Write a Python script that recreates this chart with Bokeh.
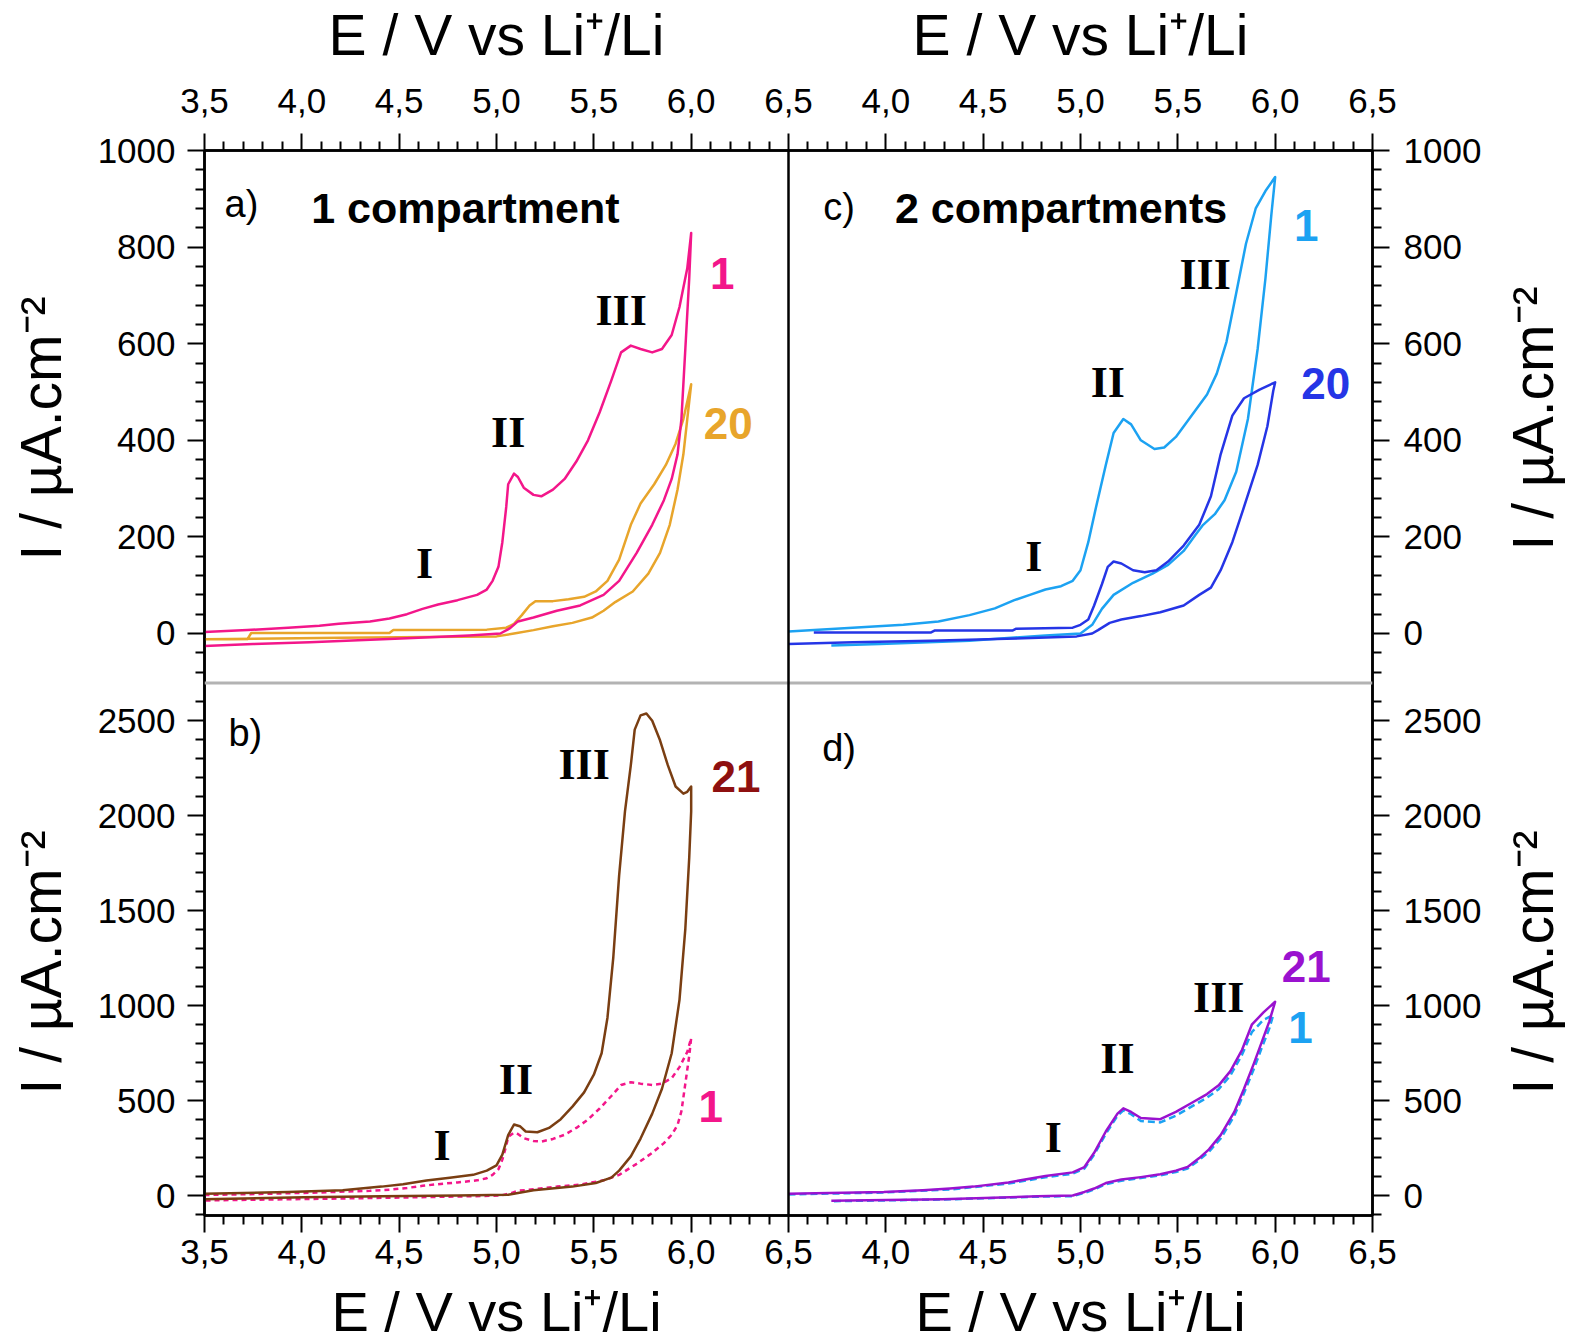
import math
from bokeh.plotting import figure
from bokeh.layouts import column, row
from bokeh.models import (Range1d, LinearAxis, FixedTicker, CustomJSTickFormatter,
                          Label, Span)
from bokeh.embed import file_html
from bokeh.resources import INLINE

# ---------------- data: cyclic voltammograms (E / V, I / uA cm^-2) ----------------
# a) 1 compartment, cycle 1
a1_fwd_E = [3.50, 3.72, 3.93, 4.09, 4.19, 4.35, 4.45, 4.54, 4.62, 4.70, 4.80, 4.90, 4.95, 4.98,
            5.01, 5.03, 5.05, 5.06, 5.09, 5.11, 5.14, 5.19, 5.23, 5.29, 5.35, 5.41, 5.47, 5.53,
            5.59, 5.64, 5.69, 5.74, 5.80, 5.85, 5.90, 5.94, 5.98, 6.00]
a1_fwd_I = [3, 7, 12, 16, 20, 25, 31, 40, 51, 60, 69, 80, 91, 109,
            138, 189, 262, 309, 331, 324, 302, 287, 284, 298, 320, 356, 400, 458,
            524, 582, 596, 589, 582, 589, 618, 676, 756, 829]
a1_rev_E = [6.00, 5.99, 5.97, 5.95, 5.93, 5.90, 5.86, 5.80, 5.72, 5.63, 5.55, 5.43, 5.31, 5.19,
            5.11, 5.07, 5.02, 4.86, 4.54, 4.04, 3.75, 3.50]
a1_rev_I = [829, 735, 589, 444, 371, 320, 276, 225, 167, 109, 80, 58, 47, 33,
            25, 11, 0, -4, -10, -18, -22, -26]

# a) 1 compartment, cycle 20
a20_fwd_E = [3.50, 3.72, 3.74, 4.45, 4.47, 4.95, 5.05, 5.09, 5.13, 5.17, 5.20, 5.29, 5.37, 5.45,
             5.51, 5.57, 5.63, 5.69, 5.74, 5.81, 5.87, 5.92, 5.96, 6.00]
a20_fwd_I = [-12, -12, 1, 1, 7, 8, 12, 20, 38, 58, 67, 67, 71, 76,
             87, 109, 153, 225, 269, 309, 349, 393, 444, 516]
a20_rev_E = [6.00, 5.98, 5.96, 5.93, 5.89, 5.84, 5.78, 5.70, 5.61, 5.55, 5.49, 5.39, 5.29, 5.19,
             5.09, 5.00, 4.80, 4.20, 3.50]
a20_rev_I = [516, 444, 371, 298, 225, 167, 124, 87, 65, 47, 33, 22, 15, 7,
             0, -6, -7, -9, -12]

# b) 1 compartment, cycle 21
b21_fwd_E = [3.50, 3.93, 4.21, 4.41, 4.52, 4.64, 4.76, 4.88, 4.95, 5.00, 5.03, 5.06, 5.09, 5.12,
             5.15, 5.21, 5.27, 5.33, 5.39, 5.45, 5.50, 5.54, 5.57, 5.60, 5.63, 5.66, 5.69, 5.71,
             5.74, 5.77, 5.80, 5.84, 5.88, 5.92, 5.96, 5.98, 6.00]
b21_fwd_I = [9, 19, 28, 47, 60, 79, 94, 109, 131, 159, 215, 318, 374, 365,
             337, 333, 356, 402, 468, 543, 636, 749, 936, 1254, 1685, 2022, 2265, 2452,
             2527, 2537, 2499, 2396, 2265, 2153, 2115, 2125, 2153]
b21_rev_E = [6.00, 6.00, 5.99, 5.97, 5.94, 5.90, 5.85, 5.80, 5.74, 5.69, 5.63, 5.59, 5.51, 5.39,
             5.19, 5.06, 4.80, 4.41, 4.01, 3.50]
b21_rev_I = [2153, 2022, 1778, 1404, 1030, 749, 562, 431, 300, 206, 131, 94, 66, 47,
             28, 4, 0, -4, -9, -19]

# c) 2 compartments, cycle 1
c1_fwd_E = [3.50, 3.83, 4.09, 4.27, 4.43, 4.56, 4.66, 4.74, 4.82, 4.90, 4.96, 5.00, 5.04, 5.08,
            5.13, 5.17, 5.22, 5.26, 5.31, 5.38, 5.43, 5.49, 5.57, 5.65, 5.70, 5.75, 5.80, 5.85,
            5.90, 5.95, 6.00]
c1_fwd_I = [4, 12, 18, 25, 38, 52, 69, 80, 91, 98, 109, 131, 189, 262,
            349, 415, 444, 433, 400, 382, 385, 407, 451, 495, 538, 604, 705, 807,
            880, 916, 945]
c1_rev_E = [6.00, 5.98, 5.95, 5.91, 5.86, 5.80, 5.74, 5.69, 5.63, 5.59, 5.53, 5.45, 5.37, 5.27,
            5.17, 5.11, 5.06, 5.00, 4.82, 4.43, 3.97, 3.72]
c1_rev_I = [945, 865, 735, 589, 444, 335, 276, 247, 225, 204, 171, 142, 124, 105,
            80, 51, 18, 0, -4, -15, -22, -25]

# c) 2 compartments, cycle 20
c20_fwd_E = [3.63, 4.23, 4.25, 4.65, 4.67, 4.96, 5.00, 5.04, 5.07, 5.11, 5.14, 5.17, 5.21, 5.27,
             5.33, 5.39, 5.45, 5.53, 5.61, 5.67, 5.72, 5.78, 5.84, 5.92, 6.00]
c20_fwd_I = [2, 2, 6, 6, 10, 12, 18, 29, 58, 102, 138, 149, 145, 131,
             127, 131, 149, 182, 225, 284, 371, 451, 487, 505, 520]
c20_rev_E = [6.00, 5.99, 5.96, 5.91, 5.84, 5.78, 5.72, 5.67, 5.61, 5.53, 5.41, 5.31, 5.21, 5.15,
             5.09, 5.06, 4.98, 4.62, 4.23, 3.83, 3.50]
c20_rev_I = [520, 502, 429, 349, 262, 189, 131, 95, 80, 58, 44, 36, 29, 22,
             7, 0, -6, -11, -15, -18, -22]

# d) 2 compartments, cycle 1 (dashed)
d1_fwd_E = [3.50, 3.99, 4.33, 4.63, 4.82, 4.96, 5.02, 5.07, 5.13, 5.19, 5.22, 5.26, 5.31, 5.41,
            5.49, 5.57, 5.65, 5.71, 5.77, 5.83, 5.88, 5.94, 5.99]
d1_fwd_I = [6, 16, 32, 63, 96, 115, 142, 215, 325, 420, 448, 428, 392, 385,
            420, 468, 515, 560, 632, 742, 860, 925, 950]
d1_rev_E = [5.99, 5.97, 5.93, 5.89, 5.84, 5.79, 5.72, 5.66, 5.61, 5.55, 5.49, 5.41, 5.31, 5.21,
            5.13, 5.07, 5.02, 4.96, 4.78, 4.29, 3.72]
d1_rev_I = [950, 880, 775, 665, 540, 420, 300, 230, 187, 142, 124, 106, 92, 78,
            60, 32, 14, -3, -6, -21, -30]

# d) 2 compartments, cycle 21
d21_fwd_E = [3.50, 3.99, 4.19, 4.33, 4.45, 4.63, 4.82, 4.96, 5.02, 5.07, 5.13, 5.19, 5.22, 5.26,
             5.31, 5.41, 5.49, 5.57, 5.65, 5.71, 5.77, 5.83, 5.88, 5.94, 6.00]
d21_fwd_I = [9, 19, 28, 37, 47, 69, 103, 122, 150, 225, 337, 431, 459, 440,
             408, 402, 440, 487, 534, 580, 655, 767, 899, 964, 1020]
d21_rev_E = [6.00, 5.97, 5.93, 5.89, 5.84, 5.79, 5.72, 5.66, 5.61, 5.55, 5.49, 5.41, 5.31, 5.21,
             5.13, 5.07, 5.02, 4.96, 4.78, 4.29, 3.72]
d21_rev_I = [1020, 917, 805, 693, 562, 440, 318, 243, 197, 150, 131, 112, 97, 84,
             66, 37, 19, 0, -4, -19, -28]

# axis ticks
x_major = [3.5, 4.0, 4.5, 5.0, 5.5, 6.0, 6.5]
top_major = [0, 200, 400, 600, 800, 1000]
bot_major = [0, 500, 1000, 1500, 2000, 2500]

# ---------------- colours ----------------
PINK = "#F3168A"
ORANGE = "#E8A52B"
CYAN = "#1CA2F2"
BLUE = "#2535E6"
BROWN = "#7A3E12"
DARKRED = "#8E1010"
PURPLE = "#9A12CF"

# ---------------- ranges: one canvas, four panels ----------------
LEFT_X = (3.5, 9.5)     # left column uses the first half
RIGHT_X = (0.5, 6.5)    # right column uses the second half
TOP_Y = (-1205.0, 1000.0)
BOT_Y = (-105.0, 5500.0)

W_SIDE_L, W_SIDE_R = 80, 80
H_TOP, H_BOT = 72, 65
W_MAIN, H_MAIN = 1410, 1206
FRAME_TOP, FRAME_BOTTOM = 150, 1215   # page rows of the panel frame

p = figure(width=W_MAIN, height=H_MAIN, output_backend="svg", toolbar_location=None,
           x_range=Range1d(*LEFT_X), y_range=Range1d(*TOP_Y),
           min_border_left=124, min_border_right=118, min_border_top=78, min_border_bottom=63,
           background_fill_color="white", border_fill_color="white")
p.extra_x_ranges = {"xr": Range1d(*RIGHT_X)}
p.extra_y_ranges = {"yb": Range1d(*BOT_Y)}
p.xgrid.visible = False
p.ygrid.visible = False
p.outline_line_color = "black"
p.outline_line_width = 2.5

shift_x = LEFT_X[0] - RIGHT_X[0]
k_top = (TOP_Y[1] - TOP_Y[0]) / (BOT_Y[1] - BOT_Y[0])


def bot_to_top(v):
    return TOP_Y[0] + (v - BOT_Y[0]) * k_top


split_y = (TOP_Y[0] + TOP_Y[1]) / 2.0

# x ticks: left column as is, right column shifted onto the shared scale
xt_major = x_major + [v + shift_x for v in x_major[1:]]
xt_minor = []
for i in range(0, 61):
    v = round(3.5 + 0.1 * i, 3)
    if all(abs(v - m) > 1e-6 for m in xt_major):
        xt_minor.append(v)
x_ticker = FixedTicker(ticks=xt_major, minor_ticks=xt_minor)
x_fmt = CustomJSTickFormatter(args=dict(edge=LEFT_X[0] + 3.0), code="""
    const v = tick > edge + 1e-6 ? tick - 3.0 : tick;
    return v.toFixed(1).replace('.', ',');
""")

# y ticks: upper row in its own units, lower row mapped onto the same scale
yt_major = list(top_major) + [bot_to_top(v) for v in bot_major]
yt_minor = [v for v in range(-80, 1000, 40) if v not in top_major]
yt_minor += [bot_to_top(v) for v in range(-100, 2700, 100) if v not in bot_major]
y_ticker = FixedTicker(ticks=yt_major, minor_ticks=yt_minor)
y_fmt = CustomJSTickFormatter(args=dict(split=split_y, t0=TOP_Y[0], b0=BOT_Y[0], k=1.0 / k_top), code="""
    if (tick >= split) return String(Math.round(tick));
    return String(Math.round(b0 + (tick - t0) * k));
""")


def style_axis(ax, standoff):
    ax.axis_line_width = 2.5
    ax.axis_line_color = "black"
    ax.major_tick_line_width = 2
    ax.minor_tick_line_width = 2
    ax.major_tick_line_color = "black"
    ax.minor_tick_line_color = "black"
    ax.major_tick_out = 17
    ax.major_tick_in = 0
    ax.minor_tick_out = 9
    ax.minor_tick_in = 0
    ax.major_label_text_font = "Liberation Sans"
    ax.major_label_text_font_size = "35px"
    ax.major_label_text_color = "black"
    ax.major_label_standoff = standoff


p.xaxis[0].ticker = x_ticker
p.xaxis[0].formatter = x_fmt
style_axis(p.xaxis[0], 7)
p.yaxis[0].ticker = y_ticker
p.yaxis[0].formatter = y_fmt
style_axis(p.yaxis[0], 12)

ax_top = LinearAxis(ticker=x_ticker, formatter=x_fmt)
style_axis(ax_top, 21)
p.add_layout(ax_top, "above")
ax_right = LinearAxis(ticker=y_ticker, formatter=y_fmt)
style_axis(ax_right, 14)
p.add_layout(ax_right, "right")

# panel separators
p.add_layout(Span(location=split_y, dimension="width", line_color="#B3B3B3", line_width=3))
p.add_layout(Span(location=LEFT_X[0] + 3.0, dimension="height", line_color="black", line_width=2.5))


def curve(fE, fI, rE, rI, color, xr="default", yr="default", dash="solid"):
    p.line(fE + rE, fI + rI, line_color=color, line_width=2.5, line_dash=dash,
           line_join="round", x_range_name=xr, y_range_name=yr)


# a) top-left
curve(a20_fwd_E, a20_fwd_I, a20_rev_E, a20_rev_I, ORANGE)
curve(a1_fwd_E, a1_fwd_I, a1_rev_E, a1_rev_I, PINK)
# b) bottom-left
curve(a1_fwd_E, a1_fwd_I, a1_rev_E, a1_rev_I, PINK, yr="yb", dash="5 4")
curve(b21_fwd_E, b21_fwd_I, b21_rev_E, b21_rev_I, BROWN, yr="yb")
# c) top-right
curve(c1_fwd_E, c1_fwd_I, c1_rev_E, c1_rev_I, CYAN, xr="xr")
curve(c20_fwd_E, c20_fwd_I, c20_rev_E, c20_rev_I, BLUE, xr="xr")
# d) bottom-right
curve(d1_fwd_E, d1_fwd_I, d1_rev_E, d1_rev_I, CYAN, xr="xr", yr="yb", dash="7 4")
curve(d21_fwd_E, d21_fwd_I, d21_rev_E, d21_rev_I, PURPLE, xr="xr", yr="yb")


def txt(fig, text, x, y, size, color="black", font="Liberation Sans", style="normal",
        xr="default", yr="default", angle=0.0, align="center", baseline="middle"):
    fig.add_layout(Label(x=x, y=y, text=text, text_font=font, text_font_size=size,
                         text_font_style=style, text_color=color, text_align=align,
                         text_baseline=baseline, angle=angle,
                         x_range_name=xr, y_range_name=yr))


SERIF = "Liberation Serif"
ROMAN = "44px"
NUM = "44px"
HEAD = "43px"

# panel a
txt(p, "a)", 3.69, 890, "38px")
txt(p, "1 compartment", 4.84, 880, HEAD, style="bold")
txt(p, "I", 4.63, 145, ROMAN, font=SERIF, style="bold")
txt(p, "II", 5.06, 416, ROMAN, font=SERIF, style="bold")
txt(p, "III", 5.64, 669, ROMAN, font=SERIF, style="bold")
txt(p, "1", 6.16, 745, NUM, color=PINK, style="bold")
txt(p, "20", 6.19, 435, NUM, color=ORANGE, style="bold")
# panel c
txt(p, "c)", 3.76, 882, "38px", xr="xr")
txt(p, "2 compartments", 4.90, 880, HEAD, style="bold", xr="xr")
txt(p, "1", 6.16, 845, NUM, color=CYAN, style="bold", xr="xr")
txt(p, "III", 5.64, 743, ROMAN, font=SERIF, style="bold", xr="xr")
txt(p, "II", 5.14, 520, ROMAN, font=SERIF, style="bold", xr="xr")
txt(p, "I", 4.76, 159, ROMAN, font=SERIF, style="bold", xr="xr")
txt(p, "20", 6.26, 518, NUM, color=BLUE, style="bold", xr="xr")
# panel b
txt(p, "b)", 3.71, 2432, "38px", yr="yb")
txt(p, "III", 5.45, 2269, ROMAN, font=SERIF, style="bold", yr="yb")
txt(p, "21", 6.23, 2205, NUM, color=DARKRED, style="bold", yr="yb")
txt(p, "II", 5.10, 611, ROMAN, font=SERIF, style="bold", yr="yb")
txt(p, "I", 4.72, 263, ROMAN, font=SERIF, style="bold", yr="yb")
txt(p, "1", 6.10, 469, NUM, color=PINK, style="bold", yr="yb")
# panel d
txt(p, "d)", 3.76, 2358, "38px", xr="xr", yr="yb")
txt(p, "21", 6.16, 1205, NUM, color=PURPLE, style="bold", xr="xr", yr="yb")
txt(p, "III", 5.71, 1042, ROMAN, font=SERIF, style="bold", xr="xr", yr="yb")
txt(p, "1", 6.13, 884, NUM, color=CYAN, style="bold", xr="xr", yr="yb")
txt(p, "II", 5.19, 721, ROMAN, font=SERIF, style="bold", xr="xr", yr="yb")
txt(p, "I", 4.86, 305, ROMAN, font=SERIF, style="bold", xr="xr", yr="yb")


# ---------------- axis titles in thin strips around the panels ----------------
def strip(w, h, y_range):
    f = figure(width=w, height=h, output_backend="svg", toolbar_location=None,
               x_range=Range1d(0, w), y_range=y_range,
               x_axis_type=None, y_axis_type=None, min_border=0,
               outline_line_color=None, background_fill_color="white",
               border_fill_color="white")
    f.xgrid.visible = False
    f.ygrid.visible = False
    return f


XT = "E / V vs Li\u207a/Li"
YT = "I / \u00b5A.cm\u207b\u00b2"
col_centres = [496, 1080]
row_centres_left = [428, 962]
row_centres_right = [418, 962]

top_strip = strip(1570, H_TOP, Range1d(H_TOP, 0))
bot_strip = strip(1570, H_BOT, Range1d(H_BOT, 0))
# the side strips share the panel frame rows, so they use page rows directly
left_strip = strip(W_SIDE_L, H_MAIN, Range1d(FRAME_BOTTOM, FRAME_TOP))
right_strip = strip(W_SIDE_R, H_MAIN, Range1d(FRAME_BOTTOM, FRAME_TOP))
for cx in col_centres:
    txt(top_strip, XT, cx, 34, "57px")
    txt(bot_strip, XT, cx, 33, "56px")
for cyl, cyr in zip(row_centres_left, row_centres_right):
    txt(left_strip, YT, 40, cyl, "57px", angle=math.pi / 2)
    txt(right_strip, YT, 42, cyr, "57px", angle=math.pi / 2)

layout = column(top_strip, row(left_strip, p, right_strip), bot_strip)

open("out.html", "w").write(file_html(layout, INLINE))
